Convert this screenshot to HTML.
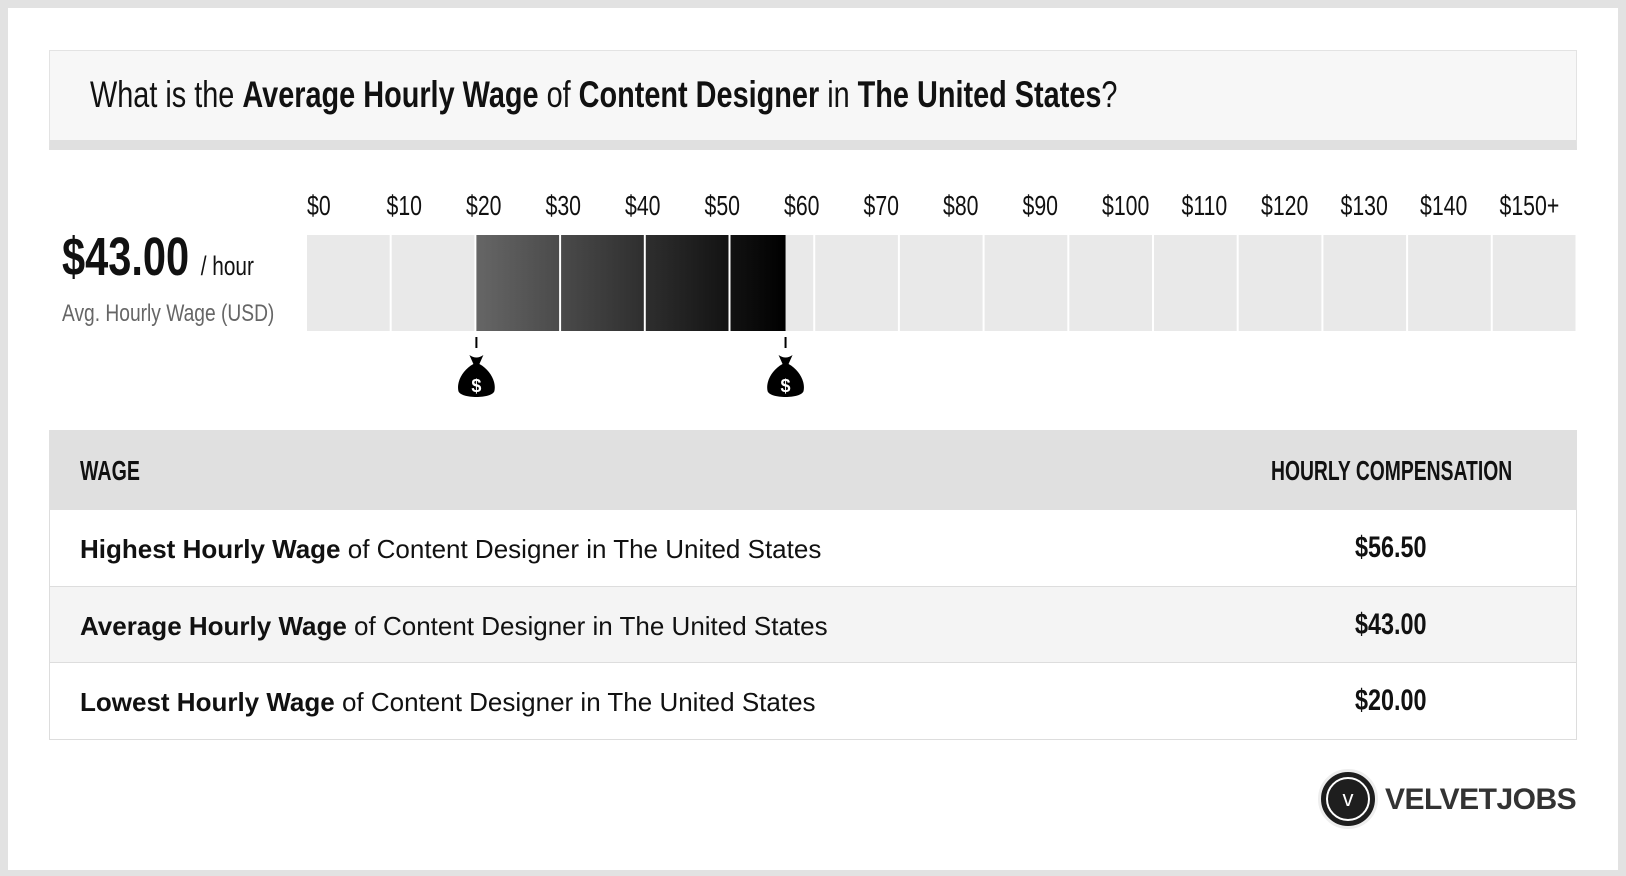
<!DOCTYPE html>
<html><head><meta charset="utf-8"><style>
*{margin:0;padding:0;box-sizing:border-box}
body{width:1626px;height:876px;background:#e2e2e2;position:relative;overflow:hidden;font-family:"Liberation Sans",sans-serif}
.n{font-family:"Liberation Sans Narrow","Liberation Sans",sans-serif;white-space:nowrap}
#frame{position:absolute;left:8px;top:8px;width:1610px;height:862px;background:#fff}
.abs{position:absolute}
</style></head><body>
<div id="frame"></div>
<div class="abs" style="left:49px;top:50px;width:1528px;height:100px;background:#f7f7f7;border:1px solid #e3e3e3;border-bottom:10px solid #e0e0e0"></div>
<div class="abs n" style="left:90px;top:74px;font-size:37px;color:#111;transform:scaleX(0.78);transform-origin:left">What is the <b>Average Hourly Wage</b> of <b>Content Designer</b> in <b>The United States</b>?</div>
<div class="abs n" style="left:62px;top:226px;font-size:54px;font-weight:bold;color:#111;transform:scaleX(0.77);transform-origin:left">$43.00 <span style="font-size:27px;font-weight:normal">/ hour</span></div>
<div class="abs n" style="left:62px;top:300px;font-size:24px;color:#666;transform:scaleX(0.8);transform-origin:left">Avg. Hourly Wage (USD)</div>
<svg class="abs" style="left:0;top:0" width="1626" height="420" id="chart">
<defs><linearGradient id="g" gradientUnits="userSpaceOnUse" x1="476" x2="786" y1="0" y2="0"><stop offset="0" stop-color="#666"/><stop offset="1" stop-color="#000"/></linearGradient></defs>
</svg>
<div class="abs" style="left:49px;top:430px;width:1528px;height:80px;background:#e0e0e0"></div>
<div class="abs n" style="left:80px;top:455px;font-size:28px;font-weight:bold;color:#111;transform:scaleX(0.7);transform-origin:left">WAGE</div>
<div class="abs n" style="left:1271px;top:455px;font-size:28px;font-weight:bold;color:#111;transform:scaleX(0.69);transform-origin:left">HOURLY COMPENSATION</div>
<div id="rows"></div>
<div class="abs" style="left:1318px;top:769px;width:60px;height:60px;border-radius:50%;background:#1e1e1e;border:3px solid #eee">
<div style="position:absolute;left:5px;top:5px;width:44px;height:44px;border-radius:50%;border:2px solid #fff;color:#fff;font-size:22px;text-align:center;line-height:40px">v</div></div>
<div class="abs" style="left:1385px;top:783px;font-size:30px;font-weight:bold;color:#333;letter-spacing:-0.5px">VELVETJOBS</div>
<script>
const tickLabels=["$0","$10","$20","$30","$40","$50","$60","$70","$80","$90","$100","$110","$120","$130","$140","$150+"];
const lowWage=[20.00];
const avgWage=[43.00];
const highWage=[56.50];
const rowLabels=["Highest Hourly Wage","Average Hourly Wage","Lowest Hourly Wage"];
const rowValues=["$56.50","$43.00","$20.00"];
const NS="http://www.w3.org/2000/svg";
const svg=document.getElementById('chart');
const x0=307,step=84.7,barTop=235,barH=96,labelStep=79.5;
const X=v=>x0+v/10*step;
function mk(t,a){const e=document.createElementNS(NS,t);for(const k in a)e.setAttribute(k,a[k]);svg.appendChild(e);return e;}
const lo=lowWage[0],hi=highWage[0];
for(let i=0;i<15;i++){
 const a=X(i*10),b=X((i+1)*10)-2;
 const r=mk('rect',{x:a,y:barTop,width:b-a,height:barH,fill:'#e9e9e9'});
 
 
 const fa=Math.max(a,X(lo)),fb=Math.min(b,X(hi));
 if(fb>fa){const f=mk('rect',{x:fa,y:barTop,width:fb-fa,height:barH,fill:'url(#g)'});
 
 }
}
tickLabels.forEach((t,i)=>{const e=mk('text',{x:0,y:0,transform:`translate(${x0+i*labelStep},215) scale(0.76,1)`,'font-size':28,fill:'#111','font-family':'Liberation Sans, sans-serif'});e.textContent=t;
 
 });
[lo,hi].forEach(v=>{const cx=X(v);
 const l=mk('rect',{x:cx-1,y:337,width:2,height:11,fill:'#000'});
 
 
 const g=mk('g',{});
 
 
 const p=document.createElementNS(NS,'path');
 p.setAttribute('d',`M${cx-7},${355} Q${cx},${360} ${cx+7},${355} L${cx+3},${364} C${cx+14},${370} ${cx+20},${382} ${cx+18},${391} C${cx+16},${399} ${cx-16},${399} ${cx-18},${391} C${cx-20},${382} ${cx-14},${370} ${cx-3},${364} Z`);
 p.setAttribute('fill','#000');g.appendChild(p);
 const t=document.createElementNS(NS,'text');t.setAttribute('x',cx);t.setAttribute('y',392);t.setAttribute('text-anchor','middle');t.setAttribute('fill','#fff');t.setAttribute('font-size','18');t.setAttribute('font-weight','bold');t.textContent='$';g.appendChild(t);
 svg.appendChild(g);});
const rows=document.getElementById('rows');
rowLabels.forEach((lab,i)=>{
 const r=document.createElement('div');r.className='abs';
 
 
 r.style.cssText=`left:49px;top:${510+i*76}px;width:1528px;height:${i==2?78:77}px;background:${i==1?'#f4f4f4':'#fff'};border:1px solid #ddd;border-top:${i==0?0:1}px solid #ddd`;
 r.innerHTML=`<div style="position:absolute;left:30px;top:24px;font-size:26px;color:#111;white-space:nowrap"><b>${lab}</b> of Content Designer in The United States</div><div class="n" style="position:absolute;left:1305px;top:21px;font-size:30px;font-weight:bold;color:#111;transform:scaleX(0.78);transform-origin:left">${rowValues[i]}</div>`;
 rows.appendChild(r);});
</script>
</body></html>
